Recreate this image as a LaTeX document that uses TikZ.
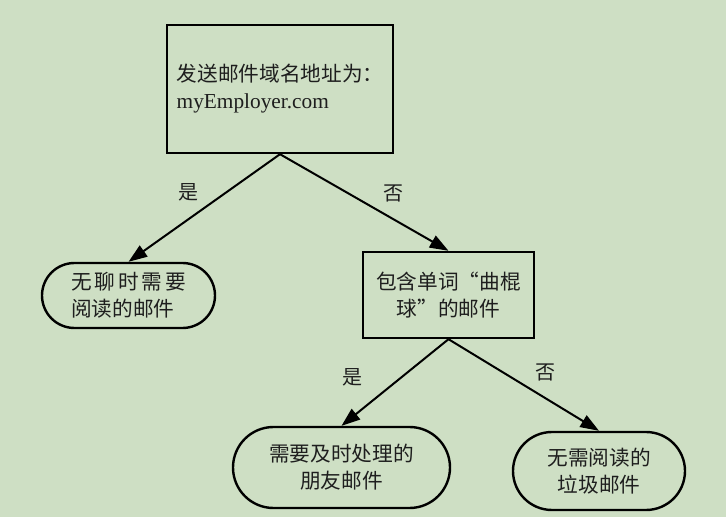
\documentclass[tikz,border=0pt]{standalone}
\usepackage{fontspec}
\setmainfont{Liberation Serif}
\newfontfamily\cjk{Noto Sans CJK SC}
\usetikzlibrary{arrows.meta, shapes.misc}
\definecolor{bggreen}{HTML}{CEDFC4}
\definecolor{inkgray}{HTML}{1E1E1E}

\begin{document}
\begin{tikzpicture}[
  x=0.75pt, y=-0.75pt,
  box/.style={rectangle, draw=black, line width=1.8pt, inner sep=0pt,
    text=inkgray, font=\cjk\fontsize{15.5}{20.25}\selectfont, align=center},
  term/.style={rounded rectangle, draw=black, line width=1.8pt, inner sep=0pt,
    text=inkgray, font=\cjk\fontsize{15.5}{20.25}\selectfont, align=center},
  arr/.style={-{Triangle[length=14pt, width=10pt]}, line width=1.5pt, black},
  lab/.style={font=\cjk\fontsize{15}{18}\selectfont, text=inkgray},
]
  \fill[bggreen] (0,0) rectangle (726,517);

  \node[box, minimum width=169.5pt, minimum height=96pt, align=left] (sender) at (280,89)
    {{\cjk 发送邮件域名地址为：}\\{\rmfamily\fontsize{16}{20.25}\selectfont myEmployer.com}};
  \node[term, minimum width=129.75pt, minimum height=48.75pt, align=left] (bored) at (128.5,295.5)
    {{\addfontfeature{LetterSpace=14}无聊时需要}\\阅读的邮件};
  \node[box, minimum width=128.25pt, minimum height=64.5pt] (hockey) at (448.5,295)
    {包含单词“曲棍\\球”的邮件};
  \node[term, minimum width=162.75pt, minimum height=60.75pt] (friends) at (341.5,467.5)
    {需要及时处理的\\朋友邮件};
  \node[term, minimum width=129pt, minimum height=58.5pt] (spam) at (599,471)
    {无需阅读的\\垃圾邮件};

  \draw[arr] (sender.south) -- (bored.north);
  \draw[arr] (sender.south) -- (hockey.north);
  \draw[arr] (hockey.south) -- (friends.north);
  \draw[arr] (hockey.south) -- (spam.north);

  \node[lab] (yes1) at (188,192) {是};
  \node[lab] (no1) at (393,193) {否};
  \node[lab] (yes2) at (352,377) {是};
  \node[lab] (no2) at (545,372) {否};
\end{tikzpicture}
\end{document}
